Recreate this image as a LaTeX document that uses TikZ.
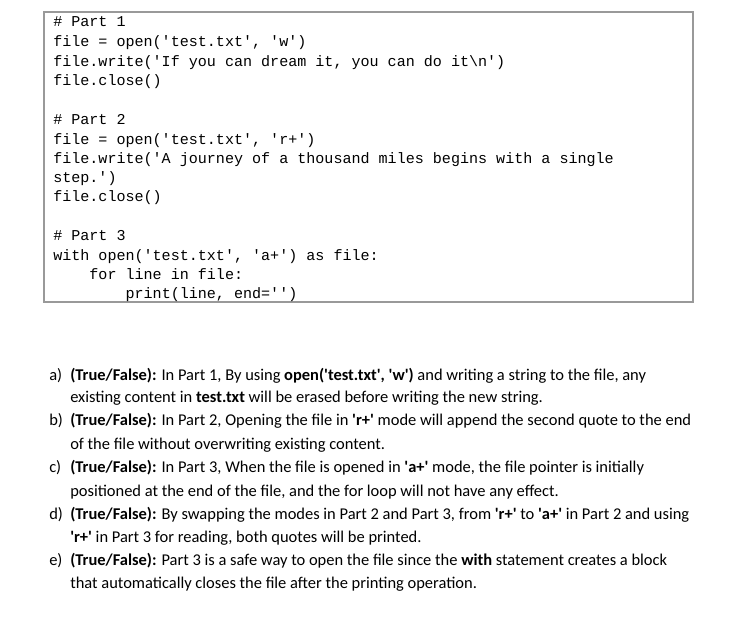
\documentclass[tikz,border=0pt]{standalone}
\usepackage{fontspec}
\setmainfont{Carlito}
\newfontfamily\codefont{Liberation Mono}
\newcommand{\sq}{\textquotesingle}
\begin{document}
\begin{tikzpicture}[x=0.75pt,y=-0.75pt,
  code/.style={anchor=base west,inner sep=0pt,font=\codefont\fontsize{11.3pt}{13pt}\selectfont},
  qtext/.style={anchor=base west,inner sep=0pt,font=\fontsize{12.35pt}{14pt}\selectfont}]
\useasboundingbox[fill=white] (0,0) rectangle (744,618);
\draw[draw=gray!80,line width=0.8pt] (44,12) rectangle (693,302);
\node[code] (c1) at (53,26) {\# Part 1};
\node[code] (c2) at (53,46) {file = open('test.txt', 'w')};
\node[code] (c3) at (53,66) {file.write('If you can dream it, you can do it\textbackslash n')};
\node[code] (c4) at (53,85) {file.close()};
\node[code] (c5) at (53,124) {\# Part 2};
\node[code] (c6) at (53,144) {file = open('test.txt', 'r+')};
\node[code] (c7) at (53,163) {file.write('A journey of a thousand miles begins with a single};
\node[code] (c8) at (53,182) {step.')};
\node[code] (c9) at (53,201) {file.close()};
\node[code] (c10) at (53,240) {\# Part 3};
\node[code] (c11) at (53,260) {with open('test.txt', 'a+') as file:};
\node[code] (c12) at (53,279) {\ \ \ \ for line in file:};
\node[code] (c13) at (53,298) {\ \ \ \ \ \ \ \ print(line, end='')};
\node[qtext] (la) at (49,380) {a)};
\node[qtext] (qa1) at (70,380) {\textbf{(True/False):} In Part 1, By using \textbf{open(\sq test.txt\sq, \sq w\sq)} and writing a string to the file, any};
\node[qtext] (qa2) at (70,402) {existing content in \textbf{test.txt} will be erased before writing the new string.};
\node[qtext] (lb) at (49,425) {b)};
\node[qtext] (qb1) at (70,425) {\textbf{(True/False):} In Part 2, Opening the file in \textbf{\sq r+\sq} mode will append the second quote to the end};
\node[qtext] (qb2) at (70,449) {of the file without overwriting existing content.};
\node[qtext] (lc) at (49,472) {c)};
\node[qtext] (qc1) at (70,472) {\textbf{(True/False):} In Part 3, When the file is opened in \textbf{\sq a+\sq} mode, the file pointer is initially};
\node[qtext] (qc2) at (70,496) {positioned at the end of the file, and the for loop will not have any effect.};
\node[qtext] (ld) at (49,519) {d)};
\node[qtext] (qd1) at (70,519) {\textbf{(True/False):} By swapping the modes in Part 2 and Part 3, from \textbf{\sq r+\sq} to \textbf{\sq a+\sq} in Part 2 and using};
\node[qtext] (qd2) at (70,542) {\textbf{\sq r+\sq} in Part 3 for reading, both quotes will be printed.};
\node[qtext] (le) at (49,565) {e)};
\node[qtext] (qe1) at (70,565) {\textbf{(True/False):} Part 3 is a safe way to open the file since the \textbf{with} statement creates a block};
\node[qtext] (qe2) at (70,588) {that automatically closes the file after the printing operation.};
\end{tikzpicture}
\end{document}
